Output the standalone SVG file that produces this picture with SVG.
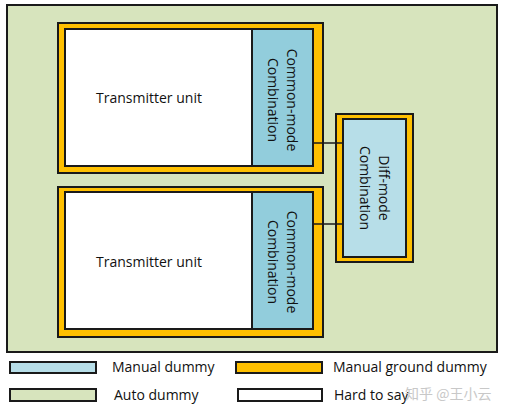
<svg xmlns="http://www.w3.org/2000/svg" width="513" height="413" viewBox="0 0 513 413">
<style>
.s{stroke:#1a1a1a;stroke-width:2}
.yel{fill:#ffc000}
.grn{fill:#d7e4bd}
.cm{fill:#92cddc}
.dm{fill:#b7dee8}
.wht{fill:#ffffff}
text{font-family:"Open Sans","Liberation Sans",sans-serif;font-size:14px;fill:#111}
.v{text-anchor:middle}
.ln{stroke:#1a1a1a;stroke-width:1.5;fill:none}
</style>
<rect id="background" class="s grn" x="7" y="5" width="490" height="347"/>
<g id="tx1">
<rect class="s yel" x="58" y="23" width="265" height="150"/>
<rect class="s wht" x="65" y="29" width="187" height="137"/>
<text x="149" y="103" class="v">Transmitter unit</text>
</g>
<g id="cm1">
<rect class="s cm" x="252" y="29" width="61" height="137"/>
<g transform="translate(282,100) rotate(90)">
<text x="0" y="-5" class="v">Common-mode</text>
<text x="0" y="14" class="v">Combination</text>
</g>
</g>
<g id="tx2">
<rect class="s yel" x="58" y="187" width="265" height="150"/>
<rect class="s wht" x="65" y="192" width="187" height="137"/>
<text x="149" y="267" class="v">Transmitter unit</text>
</g>
<g id="cm2">
<rect class="s cm" x="252" y="192" width="61" height="137"/>
<g transform="translate(282,262) rotate(90)">
<text x="0" y="-5" class="v">Common-mode</text>
<text x="0" y="14" class="v">Combination</text>
</g>
</g>
<g id="dm">
<rect class="s yel" x="336" y="114" width="77" height="148"/>
<rect class="s dm" x="343" y="119" width="63" height="138"/>
<g transform="translate(374,188) rotate(90)">
<text x="0" y="-5" class="v">Diff-mode</text>
<text x="0" y="14" class="v">Combination</text>
</g>
</g>
<g id="connectors">
<line class="ln" x1="313" y1="143" x2="343" y2="143"/>
<line class="ln" x1="313" y1="224" x2="343" y2="224"/>
</g>
<g id="legend">
<rect class="s dm" x="10" y="362" width="86" height="11"/>
<text x="112" y="372">Manual dummy</text>
<rect class="s yel" x="236" y="362" width="86" height="11"/>
<text x="333" y="372">Manual ground dummy</text>
<rect class="s grn" x="10" y="389" width="86" height="12"/>
<text x="114" y="400">Auto dummy</text>
<rect class="s wht" x="238" y="389" width="84" height="12"/>
<text x="334" y="400">Hard to say</text>
<text x="405" y="399" style="fill:#c8c8c8;font-family:'Noto Sans CJK SC','Liberation Sans',sans-serif;font-size:14px">知乎 @王小云</text>
</g>
</svg>
